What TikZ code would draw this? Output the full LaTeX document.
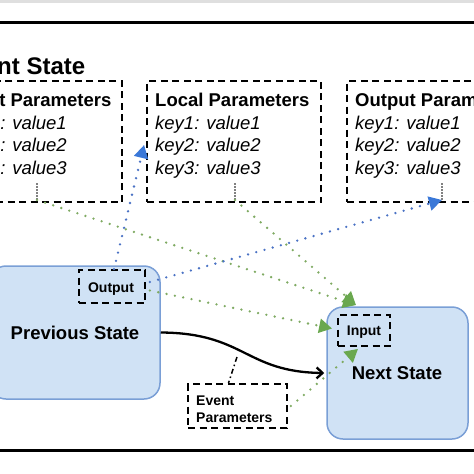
\documentclass[tikz,border=0pt]{standalone}
\usepackage{fontspec}
\setmainfont{Liberation Sans}
\usetikzlibrary{arrows.meta}

\definecolor{stfill}{HTML}{D0E2F5}
\definecolor{stline}{HTML}{7A9FD6}
\definecolor{gdot}{HTML}{7FAA62}
\definecolor{gtip}{HTML}{6AA84F}
\definecolor{bdot}{HTML}{4A72C4}
\definecolor{btip}{HTML}{3A78D8}

\newcommand{\lblfont}{\fontsize{18.5}{22.5}\selectfont}
\newcommand{\ttlfont}{\fontsize{24}{28}\selectfont}
\newcommand{\smlfont}{\fontsize{14}{17}\selectfont}

\tikzset{
  parbox/.style={draw, line width=1.8pt, dash pattern=on 7pt off 4.5pt, inner sep=0pt},
  stbox/.style={draw=stline, fill=stfill, line width=1.5pt, rounded corners=16pt, inner sep=0pt},
  headtxt/.style={inner sep=0pt, anchor=base west, font=\lblfont\bfseries},
  keytxt/.style={inner sep=0pt, anchor=base west, font=\lblfont\itshape},
  vdots/.style={line width=1.8pt, dash pattern=on 0pt off 3pt, line cap=round},
  greenarr/.style={gdot, line width=2.6pt, dash pattern=on 0pt off 8.5pt, line cap=round,
    -{Triangle[length=13pt,width=14pt,color=gtip]}},
  bluearr/.style={bdot, line width=2.6pt, dash pattern=on 0pt off 8.5pt, line cap=round,
    -{Triangle[length=13pt,width=14pt,color=btip]}}
}

\begin{document}
\begin{tikzpicture}[x=1pt, y=-1pt]
\useasboundingbox (0,0) rectangle (474,474);
\clip (0,0) rectangle (474,474);

% frame of the current state
\fill [gray!25] (0,0) rectangle (474,2.5);
\draw [line width=2.5pt] (-100,22.5) rectangle (600,450.5);
\node (cstitle) [inner sep=0pt, anchor=base west, font=\ttlfont\bfseries] at (-67,74) {Current State};

% parameter boxes
\node (inbox) [parbox, minimum width=172pt, minimum height=121pt] at (36,141.5) {};
\node (locbox) [parbox, minimum width=174pt, minimum height=121pt] at (234,141.5) {};
\node (outbox) [parbox, minimum width=174pt, minimum height=121pt] at (434,141.5) {};

\node (inhead) [headtxt] at (-40,106) {Input Parameters};
\node (ink1) [keytxt] at (-39,129) {key1: value1};
\node (ink2) [keytxt] at (-39,151.5) {key2: value2};
\node (ink3) [keytxt] at (-39,174) {key3: value3};
\coordinate (indots) at (37,200);
\draw [vdots] (37,184) -- (indots);

\node (lochead) [headtxt] at (155,106) {Local Parameters};
\node (lock1) [keytxt] at (155,129) {key1: value1};
\node (lock2) [keytxt] at (155,151.5) {key2: value2};
\node (lock3) [keytxt] at (155,174) {key3: value3};
\coordinate (locdots) at (235,200);
\draw [vdots] (235,184) -- (locdots);

\node (outhead) [headtxt] at (355,106) {Output Parameters};
\node (outk1) [keytxt] at (355,129) {key1: value1};
\node (outk2) [keytxt] at (355,151.5) {key2: value2};
\node (outk3) [keytxt] at (355,174) {key3: value3};
\coordinate (outdots) at (442,200);
\draw [vdots] (442,184) -- (outdots);

% states
\node (prevst) [stbox, minimum width=170pt, minimum height=133pt] at (75,332.5) {};
\node (prevtxt) [inner sep=0pt, font=\lblfont\bfseries] at (75,333) {Previous State};
\node (outport) [parbox, minimum width=66pt, minimum height=33pt] at (112,286.5) {};
\node (outtxt) [inner sep=0pt, font=\smlfont\bfseries] at (111,289) {Output};

\node (nextst) [stbox, minimum width=141pt, minimum height=132pt] at (397.5,373) {};
\node (nexttxt) [inner sep=0pt, font=\lblfont\bfseries] at (397,373) {Next State};
\node (inport) [parbox, minimum width=52pt, minimum height=31pt] at (364,330.5) {};
\node (intxt) [inner sep=0pt, font=\smlfont\bfseries] at (364,332) {Input};

% event
\node (evbox) [parbox, minimum width=99pt, minimum height=44pt] at (237.5,406) {};
\node (evtxt1) [inner sep=0pt, anchor=base west, font=\smlfont\bfseries] at (196,405) {Event};
\node (evtxt2) [inner sep=0pt, anchor=base west, font=\smlfont\bfseries] at (196,422) {Parameters};

% transition
\draw [line width=2.3pt, -{Straight Barb[length=6pt,width=11pt]}]
  (prevst.east) .. controls (245,333) and (245,372) .. ([xshift=-2pt]nextst.west);
\coordinate (curvemid) at (237,357);
\draw [line width=1.5pt, dash pattern=on 5pt off 3pt on 1.5pt off 3pt] (curvemid) -- ([xshift=-9pt]evbox.north);

% data flow
\coordinate (intop) at ([xshift=-8pt,yshift=9pt]inport.north);
\draw [greenarr] (indots) -- (intop);
\draw [greenarr] (locdots) -- (intop);
\draw [greenarr] ([xshift=4pt,yshift=-4pt]outport.east) -- ([xshift=-5pt,yshift=2pt]inport.west);
\draw [greenarr] ([xshift=3pt]evbox.east) -- ([xshift=-6pt,yshift=-2pt]inport.south);
\draw [bluearr] ([xshift=2pt]outport.north) -- ([xshift=-2pt,yshift=-3.5pt]locbox.west);
\draw [bluearr] ([xshift=4pt,yshift=4.5pt]outport.east) -- (outdots);

\end{tikzpicture}
\end{document}
